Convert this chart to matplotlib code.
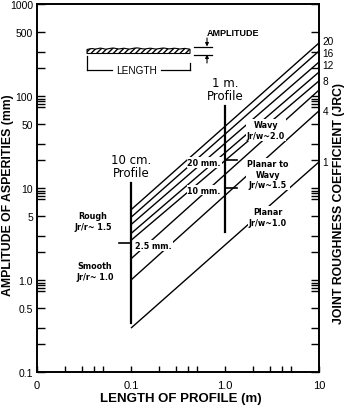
import matplotlib
matplotlib.use("Agg")
import matplotlib.pyplot as plt
from matplotlib.ticker import NullFormatter, FixedLocator
from matplotlib.patches import Polygon
import numpy as np

# ---------------- data ----------------
jrc_values = [20, 16, 12, 10, 8, 6, 4, 1]
length_start = 0.1      # m, lines start at the 10 cm profile
length_end = 10.0       # m, lines end at the right border
amp_at_start = [5.8, 4.8, 4.0, 3.2, 2.7, 1.7, 1.0, 0.30]      # mm at 0.1 m
amp_at_end = [377, 308, 234, 182, 146, 116, 69, 19.2]          # mm at 10 m
jrc_labelled = [20, 16, 12, 8, 4, 1]

profile_lengths = [0.1, 1.0]
profile_names = ["10 cm.\nProfile", "1 m.\nProfile"]
profile_amp_low = [0.34, 3.3]
profile_amp_high = [11.3, 78.0]

mark_lengths = [0.1, 1.0, 1.0]
mark_amps = [2.5, 20.0, 10.0]
mark_texts = ["2.5 mm.", "20 mm.", "10 mm."]

ytick_vals = [0.1, 0.5, 1, 5, 10, 50, 100, 500, 1000]
ytick_text = ["0.1", "0.5", "1.0", "5", "10", "50", "100", "500", "1000"]
xtick_vals = [0.01, 0.1, 1, 10]
xtick_text = ["0", "0.1", "1.0", "10"]

class_texts = ["Rough\nJr/r~ 1.5", "Smooth\nJr/r~ 1.0", "Wavy\nJr/w~2.0",
               "Planar to\nWavy\nJr/w~1.5", "Planar\nJr/w~1.0"]

# ---------------- figure ----------------
W, H = 350, 410
AX_L, AX_R, AX_T, AX_B = 37, 319, 5, 373

def fa(px, py):
    """reference pixel -> axes fraction"""
    return ((px - AX_L) / (AX_R - AX_L), (AX_B - py) / (AX_B - AX_T))

fig = plt.figure(figsize=(W / 100, H / 100), dpi=100)
ax = fig.add_axes([AX_L / W, 1 - AX_B / H, (AX_R - AX_L) / W, (AX_B - AX_T) / H])
ax.set_xscale("log")
ax.set_yscale("log")
ax.set_xlim(0.01, 10)
ax.set_ylim(0.1, 1000)

tickfont = ["Liberation Sans Narrow", "Liberation Sans", "DejaVu Sans"]

# ticks
ax.yaxis.set_major_locator(FixedLocator(ytick_vals))
ax.set_yticklabels(ytick_text, fontsize=7.5, family=tickfont)
yminor = []
for d in [0.1, 1, 10, 100]:
    yminor += [2 * d, 3 * d]
for d in [1, 10, 100]:
    yminor += [d * 10 ** (-k * 0.029) for k in range(1, 5)]
ax.yaxis.set_minor_locator(FixedLocator(yminor))
ax.yaxis.set_minor_formatter(NullFormatter())

ax.xaxis.set_major_locator(FixedLocator(xtick_vals))
ax.set_xticklabels(xtick_text, fontsize=8, family=tickfont)
xminor = []
for d in [0.01, 0.1, 1]:
    xminor += [m * d for m in (2, 3, 4, 5)]
ax.xaxis.set_minor_locator(FixedLocator(xminor))
ax.xaxis.set_minor_formatter(NullFormatter())

ax.tick_params(axis="y", which="both", direction="in", length=6, width=1.0,
               left=True, right=True, labelright=False, pad=3)
ax.tick_params(axis="x", which="both", direction="in", length=4, width=1.0,
               top=False, pad=6)
for s in ax.spines.values():
    s.set_linewidth(1.4)

# ---------------- JRC lines ----------------
label_nudge = {20: 1.5, 16: -1.2, 12: -1.8, 8: 0, 4: 0, 1: 0}   # points
for j, a0, a1 in zip(jrc_values, amp_at_start, amp_at_end):
    ax.plot([length_start, length_end], [a0, a1], color="black", lw=1.0,
            zorder=2, solid_capstyle="butt")
    if j in jrc_labelled:
        ax.annotate(str(j), xy=(length_end, a1), xytext=(2.5, label_nudge[j]),
                    textcoords="offset points", ha="left", va="center",
                    fontsize=7.3, family=tickfont, annotation_clip=False)

# ---------------- profile lines ----------------
for L, lo, hi, name in zip(profile_lengths, profile_amp_low, profile_amp_high,
                           profile_names):
    ax.plot([L, L], [lo, hi], color="black", lw=1.6, zorder=3)
    ax.annotate(name, xy=(L, hi), xytext=(0, 3), textcoords="offset points",
                ha="center", va="bottom", fontsize=8.5, linespacing=1.0,
                family="DejaVu Sans")

tick_span = 10 ** (12 / 94)
for L, a, t in zip(mark_lengths, mark_amps, mark_texts):
    if L < 0.5:
        ax.plot([L / tick_span, L], [a, a], color="black", lw=1.2, zorder=3)
        ax.annotate(t, xy=(L, a), xytext=(3, -1.5), textcoords="offset points",
                    ha="left", va="center", fontsize=5.8, fontweight="bold",
                    family="DejaVu Sans", zorder=4,
                    bbox=dict(facecolor="white", edgecolor="none", pad=0.6))
    else:
        ax.plot([L, L * tick_span], [a, a], color="black", lw=1.2, zorder=3)
        ax.annotate(t, xy=(L, a), xytext=(-3, -1.5), textcoords="offset points",
                    ha="right", va="center", fontsize=5.8, fontweight="bold",
                    family="DejaVu Sans", zorder=4,
                    bbox=dict(facecolor="white", edgecolor="none", pad=0.6))

# ---------------- class labels ----------------
class_pos = [(93, 222), (95, 272), (266, 131), (268, 175), (268, 218)]
for t, (px, py) in zip(class_texts, class_pos):
    ax.text(*fa(px, py), t, transform=ax.transAxes, ha="center", va="center",
            fontsize=5.8, fontweight="bold", family="DejaVu Sans",
            linespacing=1.15, zorder=5,
            bbox=dict(facecolor="white", edgecolor="none", pad=0.8))

# ---------------- schematic ----------------
xs = np.linspace(87, 190, 40)
bumps = [0, 0.6, 1.0, 0.4, 0.8, 1.4, 1.0, 0.3, 0.7, 1.2, 1.5, 1.0, 0.5, 0.9,
         1.3, 0.8, 0.4, 0.9, 1.4, 1.6, 1.2, 0.7, 0.5, 1.0, 1.3, 0.9, 0.4, 0.8,
         1.2, 1.5, 1.1, 0.6, 0.9, 1.3, 1.0, 0.5, 0.8, 1.1, 0.7, 0.3]
top = [fa(x, 50.5 - b) for x, b in zip(xs, bumps)]
bot = [fa(x, 54.5) for x in xs[::-1]]
strip = Polygon(top + bot, closed=True, transform=ax.transAxes,
                facecolor="white", edgecolor="black", lw=0.8, hatch="//////")
ax.add_patch(strip)

def seg(p, q, lw=0.9):
    ax.plot(*zip(fa(*p), fa(*q)), transform=ax.transAxes, color="black",
            lw=lw, clip_on=False)

seg((87, 57), (87, 71))
seg((87, 71), (112, 71))
seg((161, 71), (190, 71))
seg((190, 64), (190, 71))
ax.text(*fa(136.5, 71), "LENGTH", transform=ax.transAxes, ha="center",
        va="center", fontsize=7.2, family=tickfont)

seg((194, 47.5), (212, 47.5))
seg((194, 55.5), (212, 55.5))
ax.annotate("", xy=fa(207, 47.5), xytext=fa(207, 39), xycoords="axes fraction",
            textcoords="axes fraction",
            arrowprops=dict(arrowstyle="-|>", color="black", lw=0.8,
                            mutation_scale=5, shrinkA=0, shrinkB=0))
ax.annotate("", xy=fa(207, 55.5), xytext=fa(207, 64), xycoords="axes fraction",
            textcoords="axes fraction",
            arrowprops=dict(arrowstyle="-|>", color="black", lw=0.8,
                            mutation_scale=5, shrinkA=0, shrinkB=0))
ax.text(*fa(233, 34), "AMPLITUDE", transform=ax.transAxes, ha="center",
        va="center", fontsize=6.5, fontweight="bold", family=tickfont)

# ---------------- axis titles ----------------
fig.text(8 / W, 1 - 195 / H, "AMPLITUDE OF ASPERITIES (mm)", rotation=90,
         ha="center", va="center", fontsize=8.8, fontweight="bold",
         family=["Liberation Sans", "DejaVu Sans"])
fig.text(339 / W, 1 - 203 / H, "JOINT ROUGHNESS COEFFICIENT (JRC)",
         rotation=90, ha="center", va="center", fontsize=8.8,
         fontweight="bold", family=["Liberation Sans", "DejaVu Sans"])
fig.text(181 / W, 1 - 399 / H, "LENGTH OF PROFILE (m)", ha="center",
         va="center", fontsize=9.5, fontweight="bold",
         family=["Liberation Sans", "DejaVu Sans"])

fig.savefig("out.png", dpi=100, facecolor="white")
